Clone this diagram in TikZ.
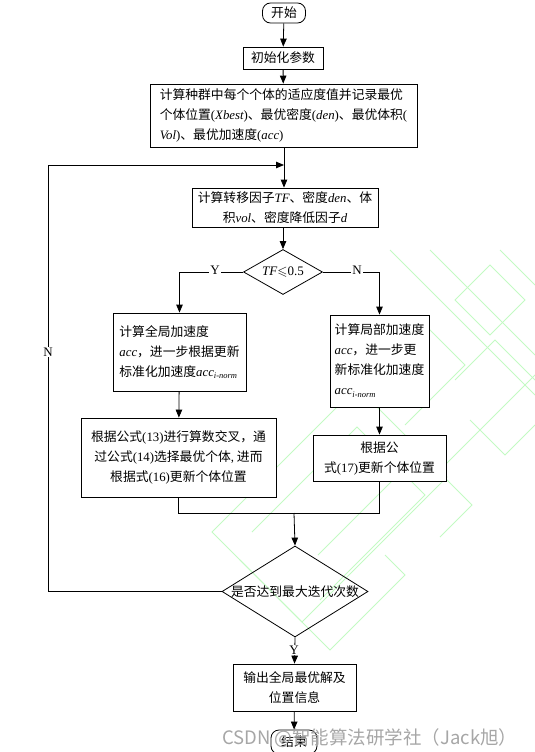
\documentclass[tikz,border=0pt]{standalone}
\usepackage{amssymb}
\usepackage{fontspec}
\setmainfont{Noto Sans CJK SC}
\newfontfamily\lsf{Liberation Serif}
\newcommand\iv[1]{{\lsf\itshape #1}}
\newcommand\ls[1]{{\lsf #1}}
\newcommand\sbn{\raisebox{-0.4ex}{\fontsize{8.5}{8.5}\selectfont\iv{i-norm}}}
\usetikzlibrary{arrows.meta,shapes.geometric}
\definecolor{wmgreen}{RGB}{195,250,195}
\begin{document}
\begin{tikzpicture}[x=1pt,y=-1pt,
  every node/.style={font=\fontsize{12.8}{20}\selectfont},
  box/.style={draw,fill=white,line width=0.8pt,inner sep=0pt,align=center},
  term/.style={box,rounded corners=8pt},
  dia/.style={draw,line width=0.8pt,diamond,inner sep=0pt},
  arr/.style={line width=0.8pt,-{Triangle[length=8pt,width=6.5pt]}},
  ln/.style={line width=0.8pt},
  wm/.style={draw=wmgreen,line width=0.9pt},
  lab/.style={fill=white,inner sep=1pt,font=\fontsize{13}{13}\selectfont\lsf}]
\useasboundingbox (0,0) rectangle (535,752);
% faint background pattern
\draw[wm] (212,532) -- (357,387) -- (447,477) -- (302,622) -- cycle;
\draw[wm] (252,532) -- (357,427) -- (425,495) -- (320,600);
\draw[wm] (240,560) -- (330,650) -- (405,575) -- (385,555);
\draw[wm] (318,555) -- (420,453) -- (472,505) -- (440,537);
\draw[wm] (390,250) -- (535,395);
\draw[wm] (430,250) -- (535,355);
\draw[wm] (455,300) -- (490,265) -- (525,300) -- (490,335) -- cycle;
\draw[wm] (455,380) -- (495,340) -- (535,380);
\draw[wm] (440,470) -- (535,375);
\draw[wm] (360,380) -- (420,320) -- (465,365) -- (405,425);
\draw[wm] (500,250) -- (535,285);
\draw[wm] (470,420) -- (505,455) -- (535,425);
% nodes
\node[term,minimum width=43,minimum height=20] (start) at (284,13) {开始};
\node[box,minimum width=80,minimum height=22] (init) at (283,58) {初始化参数};
\node[box,minimum width=267,minimum height=63,align=left] (fit) at (283.5,115.5)
  {计算种群中每个个体的适应度值并记录最优\\个体位置\ls{(}\iv{Xbest}\ls{)}、最优密度\ls{(}\iv{den}\ls{)}、最优体积\ls{(}\\\iv{Vol}\ls{)}、最优加速度\ls{(}\iv{acc}\ls{)}};
\coordinate (merge) at (284,165);
\node[box,minimum width=186,minimum height=39] (tf) at (285,207.5)
  {计算转移因子\iv{TF}、密度\iv{den}、体\\积\iv{vol}、密度降低因子\iv{d}};
\node[dia,fill=white,minimum width=79,minimum height=45] (d1) at (283,272) {};
\node[font=\fontsize{13}{13}\selectfont\lsf] at (d1) {\textit{TF}$\leqslant$0.5};
\node[box,minimum width=133,minimum height=78,align=left] (l1) at (179.5,352)
  {计算全局加速度\\\iv{acc}，进一步根据更新\\标准化加速度\iv{acc}\sbn};
\node[box,minimum width=99,minimum height=92,align=left] (r1) at (379.5,361)
  {计算局部加速度\\\iv{acc}，进一步更\\新标准化加速度\\\iv{acc}\sbn};
\node[box,minimum width=195,minimum height=79] (l2) at (178.5,457.5)
  {根据公式\ls{(13)}进行算数交叉，通\\过公式\ls{(14)}选择最优个体\ls{,} 进而\\根据式\ls{(16)}更新个体位置};
\node[box,minimum width=133,minimum height=46] (r2) at (379.5,458)
  {根据公\\式\ls{(17)}更新个体位置};
\coordinate (join) at (294,513);
\node[dia,minimum width=146,minimum height=91] (d2) at (295,591.5) {};
\node at (d2) {是否达到最大迭代次数};
\node[box,minimum width=123,minimum height=47] (out) at (294.5,687.5)
  {输出全局最优解及\\位置信息};
\node[term,minimum width=46,minimum height=24] (end) at (294,742) {结束};
% connectors
\draw[arr] (start) -- (init);
\draw[arr] (init) -- (fit);
\draw[arr] (fit.south -| merge) -- (tf.north -| merge);
\draw[arr] (d2.west) -- (48,591.5) -- (48,165) -- (merge);
\node[lab] at (48,352) {N};
\draw[arr] (tf.south -| d1.north) -- (d1.north);
\draw[arr] (d1.west) -| (l1.north);
\node[lab] at (215,270) {Y};
\draw[arr] (d1.east) -| (r1.north);
\node[lab] at (357,270) {N};
\draw[arr] (l1) -- (l2);
\draw[arr] (r1) -- (r2);
\draw[ln] (l2.south) -- (l2.south |- join) -- (r2.south |- join) -- (r2.south);
\draw[arr] (join) -- (d2.north);
\draw[arr] (d2.south) -- (out.north);
\node[lab] at (294,650) {Y};
\draw[arr] (out) -- (end);
% watermark
\node[anchor=west,text=black!35,inner sep=0pt,font=\fontsize{18.5}{18.5}\selectfont] (wm) at (222,738) {CSDN @智能算法研学社（Jack旭）};
\end{tikzpicture}
\end{document}
